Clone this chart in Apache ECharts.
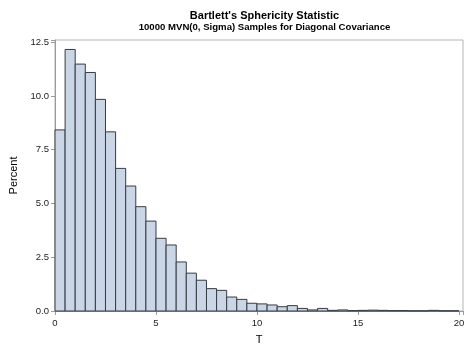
<!DOCTYPE html>
<html>
<head>
<meta charset="utf-8">
<script src="https://cdn.jsdelivr.net/npm/echarts@6/dist/echarts.min.js"></script>
<style>html,body{margin:0;padding:0;background:#fff}#c{width:474px;height:355px}</style>
</head>
<body>
<div id="c"></div>
<script>
// Histogram bins: width 0.5, starting at T = 0
const binStart = 0;
const binWidth = 0.5;
const percents = [8.42, 12.16, 11.48, 11.09, 9.84, 8.33, 6.63, 5.81, 4.85, 4.18,
  3.38, 3.07, 2.28, 1.76, 1.43, 1.04, 0.96, 0.65, 0.54, 0.36,
  0.33, 0.28, 0.20, 0.25, 0.12, 0.05, 0.12, 0.03, 0.05, 0.02,
  0.03, 0.04, 0.03, 0.02, 0.02, 0.01, 0.01, 0.03, 0.01, 0.01];
const xTicks = [0, 5, 10, 15, 20];
const yTicks = [0, 2.5, 5, 7.5, 10, 12.5];
const titleText = "Bartlett's Sphericity Statistic";
const subtitleText = "10000 MVN(0, Sigma) Samples for Diagonal Covariance";

const data = percents.map((p, i) => [binStart + i * binWidth, binStart + (i + 1) * binWidth, p]);
const font = "'Liberation Sans', Arial, sans-serif";
const chart = echarts.init(document.getElementById('c'), null, {renderer: 'canvas'});
chart.setOption({
  animation: false,
  backgroundColor: '#fff',
  title: [
    {text: titleText, left: 259.5, textAlign: 'center', top: 5,
     textStyle: {fontFamily: font, fontSize: 11, fontWeight: 'bold', color: '#000'}},
    {text: subtitleText, left: 259.5, textAlign: 'center', top: 17,
     textStyle: {fontFamily: font, fontSize: 9.6, fontWeight: 'bold', color: '#000'}}
  ],
  grid: {left: 55, right: 11, top: 40, bottom: 44, show: true, borderColor: '#b4b4b4', borderWidth: 1},
  xAxis: {
    type: 'value', min: 0, max: 20.2, interval: 5,
    name: 'T', nameLocation: 'middle', nameGap: 23,
    nameTextStyle: {fontFamily: font, fontSize: 11, color: '#000'},
    axisLine: {show: true, lineStyle: {color: '#9a9a9a'}},
    axisTick: {show: true, length: 4, lineStyle: {color: '#9a9a9a'}},
    axisLabel: {fontFamily: font, fontSize: 9.5, color: '#222', margin: 7,
      formatter: v => xTicks.indexOf(v) >= 0 ? String(v) : ''},
    splitLine: {show: false}
  },
  yAxis: {
    type: 'value', min: 0, max: 12.6, interval: 2.5,
    name: 'Percent', nameLocation: 'middle', nameGap: 36,
    nameTextStyle: {fontFamily: font, fontSize: 11, color: '#000'},
    axisLine: {show: true, lineStyle: {color: '#9a9a9a'}},
    axisTick: {show: true, length: 4, lineStyle: {color: '#9a9a9a'}},
    axisLabel: {fontFamily: font, fontSize: 9.5, color: '#222', margin: 6,
      formatter: v => yTicks.indexOf(v) >= 0 ? v.toFixed(1) : ''},
    splitLine: {show: false}
  },
  series: [{
    type: 'custom',
    data: data,
    encode: {x: [0, 1], y: 2},
    renderItem: function (params, api) {
      const p0 = api.coord([api.value(0), 0]);
      const p1 = api.coord([api.value(1), api.value(2)]);
      return {
        type: 'rect',
        shape: {x: p0[0], y: p1[1], width: p1[0] - p0[0], height: p0[1] - p1[1]},
        style: {fill: '#cad5e5', stroke: '#363c44', lineWidth: 1}
      };
    }
  }]
});
</script>
</body>
</html>
